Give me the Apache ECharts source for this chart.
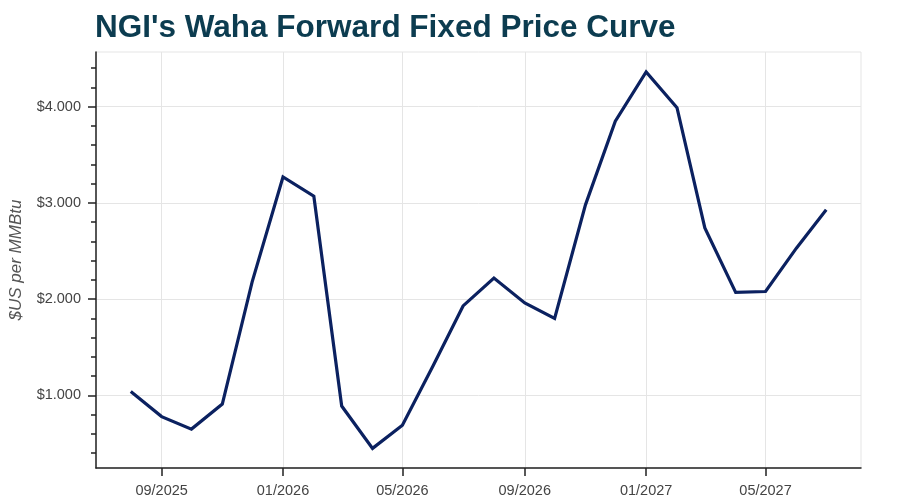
<!DOCTYPE html>
<html>
<head>
<meta charset="utf-8">
<script src="https://cdn.jsdelivr.net/npm/echarts@6/dist/echarts.min.js"></script>
<style>
html,body{margin:0;padding:0;background:#fff;}
#chart{width:900px;height:502px;}
</style>
</head>
<body>
<div id="chart"></div>
<script>
// ---- data ----
var months = ['2025-08','2025-09','2025-10','2025-11','2025-12',
  '2026-01','2026-02','2026-03','2026-04','2026-05','2026-06','2026-07',
  '2026-08','2026-09','2026-10','2026-11','2026-12',
  '2027-01','2027-02','2027-03','2027-04','2027-05','2027-06','2027-07'];
var prices = [1.04, 0.78, 0.65, 0.91, 2.18,
  3.27, 3.07, 0.89, 0.45, 0.69, 1.31, 1.93,
  2.22, 1.96, 1.80, 2.98, 3.85,
  4.36, 3.99, 2.74, 2.07, 2.08, 2.53, 2.93];
var xTickLabels = ['09/2025','01/2026','05/2026','09/2026','01/2027','05/2027'];
var yTickValues = [1, 2, 3, 4];
var yMinorValues = [0.4,0.6,0.8,1.2,1.4,1.6,1.8,2.2,2.4,2.6,2.8,3.2,3.4,3.6,3.8,4.2,4.4];
var titleText = "NGI's Waha Forward Fixed Price Curve";

// ---- helpers ----
function monthTs(s){ var p=s.split('-'); return Date.UTC(+p[0], +p[1]-1, 1); }
function labelTs(s){ var p=s.split('/'); return Date.UTC(+p[1], +p[0]-1, 1); }
var xs = months.map(monthTs);
var seriesData = xs.map(function(t,i){ return [t, prices[i]]; });
var xTicks = xTickLabels.map(labelTs);
var span = xs[xs.length-1]-xs[0];
var xMin = xs[0]-0.05*span, xMax = xs[xs.length-1]+0.05*span;
var yMin = 0.246, yMax = 4.568;
function fmtX(v){ var d=new Date(v); var m=d.getUTCMonth()+1; return (m<10?'0':'')+m+'/'+d.getUTCFullYear(); }
function fmtY(v){ return '$'+v.toFixed(3); }

var FONT = 'Liberation Sans, Arial, sans-serif';
var chart = echarts.init(document.getElementById('chart'), null, {renderer:'canvas'});
chart.setOption({
  animation:false,
  backgroundColor:'#fff',
  graphic:[{
    type:'text', x:95, y:28.4,
    style:{text:titleText, font:'bold 31.5px "Liberation Sans", Arial, sans-serif',
      fill:'#0c3c50', align:'left', verticalAlign:'middle'}
  }],
  grid:{left:95, right:39, top:52, bottom:34, show:true, borderColor:'#e5e5e5', borderWidth:1, backgroundColor:'#fff'},
  xAxis:{
    type:'value', min:xMin, max:xMax,
    axisLine:{show:true, onZero:false, lineStyle:{color:'#222', width:1.5}},
    axisTick:{show:true, length:8, customValues:xTicks, lineStyle:{color:'#222', width:1.5}},
    axisLabel:{customValues:xTicks, formatter:fmtX, margin:15, fontFamily:FONT, fontSize:14.5, color:'#444'},
    splitLine:{show:true, lineStyle:{color:'#e5e5e5', width:1}}
  },
  yAxis:[{
    type:'value', min:yMin, max:yMax,
    name:'$US per MMBtu', nameLocation:'middle', nameGap:71, nameRotate:90,
    nameTextStyle:{fontFamily:FONT, fontStyle:'italic', fontSize:17, color:'#555'},
    axisLine:{show:true, lineStyle:{color:'#222', width:1.5}},
    axisTick:{show:true, length:8, customValues:yTickValues, lineStyle:{color:'#222', width:1.5}},
    axisLabel:{customValues:yTickValues, formatter:fmtY, margin:15, fontFamily:FONT, fontSize:14.5, color:'#444'},
    splitLine:{show:true, lineStyle:{color:'#e5e5e5', width:1}}
  },{
    type:'value', min:yMin, max:yMax, position:'left',
    axisLine:{show:false},
    axisTick:{show:true, length:5, customValues:yMinorValues, lineStyle:{color:'#222', width:1.5}},
    axisLabel:{show:false},
    splitLine:{show:false}
  }],
  series:[{
    type:'line', data:seriesData, yAxisIndex:0,
    showSymbol:false, symbol:'none',
    lineStyle:{color:'#0b2160', width:3.2, join:'miter'},
    itemStyle:{color:'#0b2160'}
  }]
});
</script>
</body>
</html>
